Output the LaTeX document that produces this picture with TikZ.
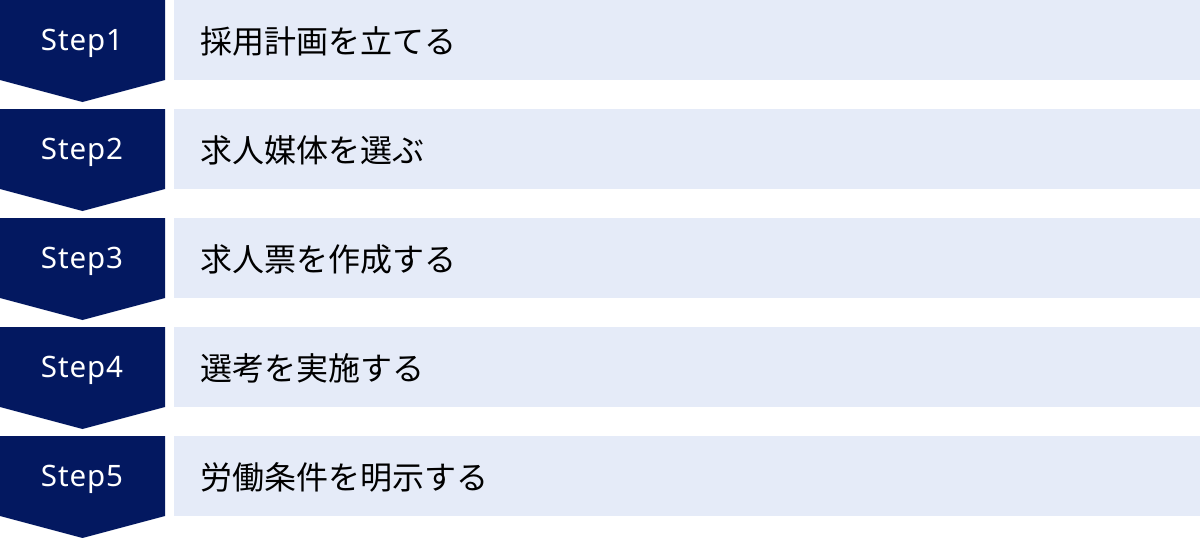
\documentclass[tikz,border=0pt]{standalone}
\usepackage{fontspec}
\setmainfont{Noto Sans CJK JP}
\newfontfamily\stepfont[LetterSpace=3]{Noto Sans}
\definecolor{navy}{RGB}{3,24,96}
\definecolor{pale}{RGB}{229,235,248}
\tikzset{
  chev/.style={fill=navy, draw=none},
  panel/.style={fill=pale, draw=none},
  steplabel/.style={text=white, inner sep=0pt, font=\stepfont\fontsize{29.5}{29.5}\selectfont},
  jptext/.style={text=black, inner sep=0pt, anchor=west, font=\fontsize{32}{32}\selectfont}
}
\begin{document}
\begin{tikzpicture}[x=1pt,y=-1pt]
\useasboundingbox (0,0) rectangle (1200,538);
\foreach \i/\lab/\txt in {0/Step1/採用計画を立てる,1/Step2/求人媒体を選ぶ,2/Step3/求人票を作成する,3/Step4/選考を実施する,4/Step5/労働条件を明示する}{
  \pgfmathsetmacro{\t}{109*\i}
  \fill[chev] (0,\t) -- (165,\t) -- (165,\t+80) -- (82.5,\t+102) -- (0,\t+80) -- cycle;
  \fill[panel] (174,\t) rectangle (1200,\t+80);
  \node[steplabel] (s\i) at (82,\t+43.5) {\lab};
  \node[jptext] (j\i) at (200.5,\t+41) {\txt};
}
\end{tikzpicture}
\end{document}
